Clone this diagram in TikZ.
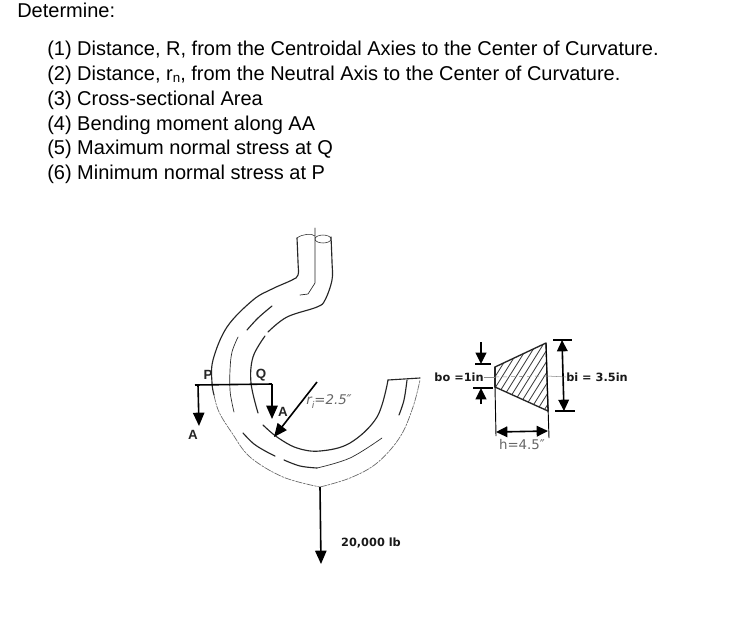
\documentclass[tikz,border=0pt]{standalone}
\usepackage{fontspec}
\setmainfont{Liberation Sans}
\newfontfamily\labelfont{DejaVu Sans}
\newfontfamily\handfont{DejaVu Sans}
\usetikzlibrary{arrows.meta}
\tikzset{
  heading/.style={anchor=base west,inner sep=0pt,font=\fontsize{15pt}{17pt}\selectfont,text=black},
  boldlabel/.style={inner sep=0pt,font=\labelfont\bfseries\fontsize{8.5pt}{10pt}\selectfont,text=black!90},
  letterlabel/.style={inner sep=0pt,font=\bfseries\fontsize{10pt}{12pt}\selectfont,text=black!85},
  handlabel/.style={inner sep=0pt,font=\handfont\fontsize{10pt}{12pt}\selectfont,text=black!60},
  sketch/.style={draw=black!85,line width=0.85pt,line cap=round,line join=round},
  faint/.style={draw=black!60,line width=0.5pt,line cap=round,dash pattern=on 5pt off 1pt on 1.5pt off 1pt},
  leader/.style={draw=black,line width=1.2pt},
  tipdown/.style={-{Triangle[length=10pt,width=8.5pt]},draw=black,line width=1.2pt},
  tipsmall/.style={-{Triangle[length=8.5pt,width=8pt]},draw=black,line width=1.2pt},
  tipboth/.style={{Triangle[length=8.5pt,width=8pt]}-{Triangle[length=8.5pt,width=8pt]},draw=black,line width=1.2pt},
  hatchline/.style={draw=black!75,line width=0.65pt},
  thinlead/.style={draw=black!45,line width=0.4pt}
}
\begin{document}
\begin{tikzpicture}[x=0.75pt,y=-0.75pt]
\useasboundingbox (0,0) rectangle (752,618);
\fill[white] (0,0) rectangle (752,618);
% question text
\node[heading] (det) at (17,17) {Determine:};
\node[heading] (q1) at (47,55) {(1) Distance, R, from the Centroidal Axies to the Center of Curvature.};
\node[heading] (q2) at (47,80) {(2) Distance, r\raisebox{-2pt}{\fontsize{10pt}{10pt}\selectfont n}, from the Neutral Axis to the Center of Curvature.};
\node[heading] (q3) at (47,105) {(3) Cross-sectional Area};
\node[heading] (q4) at (47,130) {(4) Bending moment along AA};
\node[heading] (q5) at (47,154) {(5) Maximum normal stress at Q};
\node[heading] (q6) at (47,179) {(6) Minimum normal stress at P};
% hook: outer edge
\draw[sketch] plot[smooth,tension=0.6] coordinates {(297,238) (298,262) (298,275) (292,280) (272,289) (253,300) (227,327) (213,360) (212,383) (214,395)};
\draw[faint] plot[smooth,tension=0.6] coordinates {(214,395) (219,412) (232,433) (250,457) (283,477) (320,487)};
\draw[faint] plot[smooth,tension=0.6] coordinates {(320,487) (350,478) (377,463) (400,437) (413,407) (420,380)};
% hook: centre line
\draw[sketch,line width=0.5pt] (315,228) -- (315,262) -- (315,283) -- (308,294) -- (300,295);
\draw[sketch] plot[smooth,tension=0.6] coordinates {(272,306) (258,318) (247,330)};
\draw[sketch,line width=0.5pt] plot[smooth,tension=0.6] coordinates {(238,337) (232,352) (230,370) (230,390) (232,403) (234,412)};
\draw[sketch] plot[smooth,tension=0.6] coordinates {(243,433) (254,444) (267,452) (275,456)};
\draw[sketch] plot[smooth,tension=0.6] coordinates {(284,460) (300,466) (317,468)};
\draw[sketch,line width=0.5pt] plot[smooth,tension=0.6] coordinates {(317,468) (350,458) (382,438)};
\draw[sketch] plot[smooth,tension=0.6] coordinates {(399,415) (404,400) (407,380)};
% hook: inner edge
\draw[sketch] plot[smooth,tension=0.6] coordinates {(331,237) (332,262) (332,280) (325,300) (317,307) (287,317) (268,332)};
\draw[sketch] plot[smooth,tension=0.6] coordinates {(265,336) (253,357) (251,383) (258,413)};
\draw[sketch] plot[smooth,tension=0.6] coordinates {(263,425) (277,437) (297,448) (320,451) (350,443) (377,417) (388,380)};
\draw[sketch] (388,380) -- (420,378);
% pipe mouth
\draw[sketch,line width=0.4pt] (323,239) ellipse [x radius=8,y radius=4];
\draw[sketch,line width=0.4pt] (297,238) .. controls (302,234) and (312,233) .. (315,236);
% section line A-A
\coordinate (secL) at (195,385);
\coordinate (secR) at (272,384);
\coordinate (aL) at (198,385);
\coordinate (aLtip) at (199,426);
\coordinate (aRtip) at (272,419);
\draw[leader] (secL) -- (secR);
\draw[tipdown] (aL) -- (aLtip);
\draw[tipdown] (secR) -- (aRtip);
\node[letterlabel] (P) at (208,375) {P};
\node[letterlabel] (Q) at (261,375) {Q};
\node[letterlabel] (Al) at (193,435) {A};
\node[letterlabel] (Ar) at (283,412) {A};
% radius
\coordinate (rS) at (317,382);
\coordinate (rE) at (274,437);
\draw[tipdown] (rS) -- (rE);
\node[handlabel] (rl) at (329,402) {\itshape r\raisebox{-3pt}{\fontsize{7pt}{7pt}\selectfont i}=2.5″};
% load
\coordinate (loadS) at (320,487);
\coordinate (loadE) at (321,564);
\draw[tipdown] (loadS) -- (loadE);
\node[boldlabel] (load) at (371,543) {20,000 lb};
% cross-section
\coordinate (tl) at (495,367);
\coordinate (tr) at (546,343);
\coordinate (br) at (548,411);
\coordinate (bl) at (495,387);
\begin{scope}
\clip (tl) -- (tr) -- (br) -- (bl) -- cycle;
\foreach \s in {440,447,...,590} {
  \draw[hatchline] (\s,420) -- (\s+50,340);
}
\end{scope}
\draw[sketch,line width=1pt] (tl) -- (tr) -- (br);
\draw[sketch,line width=1pt] (bl) -- (br);
\draw[sketch,line width=1pt] (tl) -- (bl);
% h dimension
\coordinate (hL) at (496,432);
\coordinate (hR) at (548,431);
\draw[draw=black,line width=0.7pt] (bl) -- (496,436);
\draw[draw=black,line width=0.7pt] (tr) -- (549,438);
\draw[tipboth] (hL) -- (hR);
\node[handlabel] (hl) at (522,445) {h=4.5″};
% bo dimension
\coordinate (boTop) at (481,342);
\coordinate (boTopTip) at (481,364);
\coordinate (boBot) at (481,404);
\coordinate (boBotTip) at (481,388);
\draw[draw=black,line width=0.8pt] (475,364) -- (491,364);
\draw[draw=black,line width=0.8pt] (473,388) -- (493,388);
\draw[tipsmall] (boTop) -- (boTopTip);
\draw[tipsmall] (boBot) -- (boBotTip);
\node[boldlabel] (bo) at (459,377) {bo =1in};
\draw[thinlead] (bo.east) -- (tl |- bo.east);
% bi dimension
\coordinate (biTop) at (562,340);
\coordinate (biBot) at (564,411);
\draw[draw=black,line width=0.8pt] (553,340) -- (572,340);
\draw[draw=black,line width=0.8pt] (555,411) -- (575,411);
\draw[tipboth] (biTop) -- (biBot);
\node[boldlabel] (bi) at (597,377) {bi = 3.5in};
\draw[thinlead] (547,376) -- (bi.west);
\draw[thinlead,dashed] (495,377) -- (547,376);
\end{tikzpicture}
\end{document}
